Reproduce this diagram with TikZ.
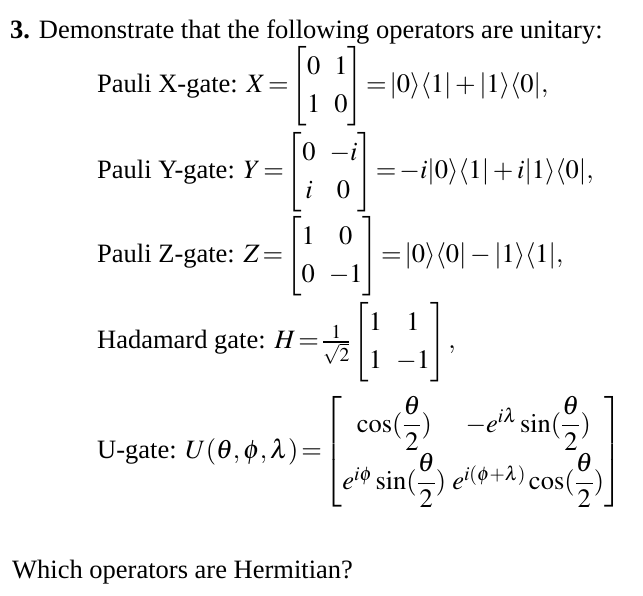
\documentclass[tikz,border=0pt]{standalone}
\usepackage{amsmath}
\usepackage{mathptmx}
\usepackage{fontspec}
\setmainfont{Liberation Serif}
\begin{document}
\begin{tikzpicture}[x=1pt,y=1pt,every node/.style={anchor=west,inner sep=0pt,font=\fontsize{26.5}{30}\selectfont}]
\useasboundingbox (0,0) rectangle (643,-596);
\renewcommand{\arraystretch}{1.25}
\setlength{\arraycolsep}{7pt}
\node (t) at (10,-32) {\textbf{3.} Demonstrate that the following operators are unitary:};
\node (x) at (97,-86) {Pauli X-gate: $X\!=\!\begin{bmatrix}0&1\\1&0\end{bmatrix}\!=\!|0\rangle\langle1|+|1\rangle\langle0|,$};
\node (y) at (97,-172) {Pauli Y-gate: $Y\!=\!\begin{bmatrix}0&-i\\i&0\end{bmatrix}\!=\!-i|0\rangle\langle1|+i|1\rangle\langle0|,$};
\node (z) at (97,-256) {Pauli Z-gate: $Z\!=\!\begin{bmatrix}1&0\\0&-1\end{bmatrix}\!=\!|0\rangle\langle0|-|1\rangle\langle1|,$};
\node (h) at (97,-342) {Hadamard gate: $H\!=\!\tfrac{1}{\sqrt2}\begin{bmatrix}1&1\\1&-1\end{bmatrix},$};
\node (u) at (97,-452) {U-gate: $U(\theta,\phi,\lambda)\!=\!\setlength{\arraycolsep}{3pt}\begin{bmatrix}\cos(\dfrac{\theta}{2}) & -e^{i\lambda}\sin(\dfrac{\theta}{2})\\[10pt] e^{i\phi}\sin(\dfrac{\theta}{2}) & e^{i(\phi+\lambda)}\cos(\dfrac{\theta}{2})\end{bmatrix}$};
\node (w) at (12,-572) {Which operators are Hermitian?};
\end{tikzpicture}
\end{document}
